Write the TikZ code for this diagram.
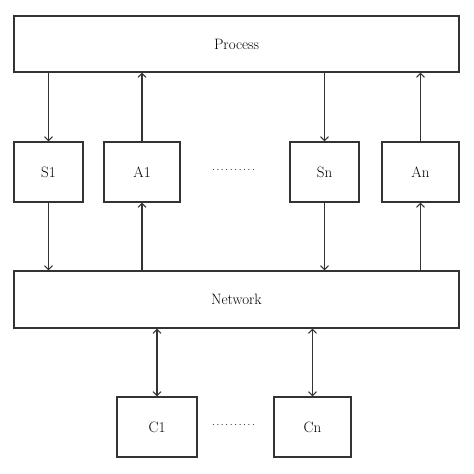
\documentclass[tikz,border=0pt]{standalone}
\usepackage{tikz}
\usetikzlibrary{arrows.meta}

\begin{document}
\begin{tikzpicture}[x=1pt,y=-1pt,
  line width=1.2pt,draw=black!80,
  blk/.style={draw=black!80,line width=1.2pt,inner sep=0pt,font=\fontsize{15}{17}\selectfont},
  link/.style={line width=1.2pt,draw=black!80,-{Straight Barb[length=4pt,width=8pt,line width=1pt]}},
  dlink/.style={link,{Straight Barb[length=4pt,width=8pt,line width=1pt]}-{Straight Barb[length=4pt,width=8pt,line width=1pt]}}]
\useasboundingbox (0,0) rectangle (474,474);
% Top and middle bars
\node[blk,minimum width=445pt,minimum height=56pt] (proc) at (236.5,44) {Process};
\node[blk,minimum width=445pt,minimum height=57pt] (net) at (236.5,299.5) {Network};
% Sensors and actuators
\foreach \name/\lab/\x/\w in {s1/S1/48.5/69,a1/A1/142/76,sn/Sn/324.5/69,an/An/420.5/77}{
  \node[blk,minimum width=\w pt,minimum height=60pt] (\name) at (\x,172) {\lab};
}
% Controllers
\node[blk,minimum width=80pt,minimum height=60pt] (c1) at (157,427) {C1};
\node[blk,minimum width=77pt,minimum height=60pt] (cn) at (312.5,427) {Cn};
% Ellipses
\node[font=\fontsize{10}{12}\selectfont,inner sep=0pt] (dotsa) at (233.5,170) {.\,.\,.\,.\,.\,.\,.\,.\,.\,.};
\node[font=\fontsize{10}{12}\selectfont,inner sep=0pt] (dotsc) at (233.5,425) {.\,.\,.\,.\,.\,.\,.\,.\,.\,.};
% Signals down to the network
\foreach \n in {s1,sn}{
  \draw[link] (proc.south -| \n.north) -- (\n.north);
  \draw[link] (\n.south) -- (\n.south |- net.north);
}
% Commands up from the network
\foreach \n in {a1,an}{
  \draw[link] (\n.north) -- (\n.north |- proc.south);
  \draw[link] (net.north -| \n.south) -- (\n.south);
}
\foreach \n in {c1,cn}{
  \draw[dlink] (net.south -| \n.north) -- (\n.north);
}
\end{tikzpicture}
\end{document}
